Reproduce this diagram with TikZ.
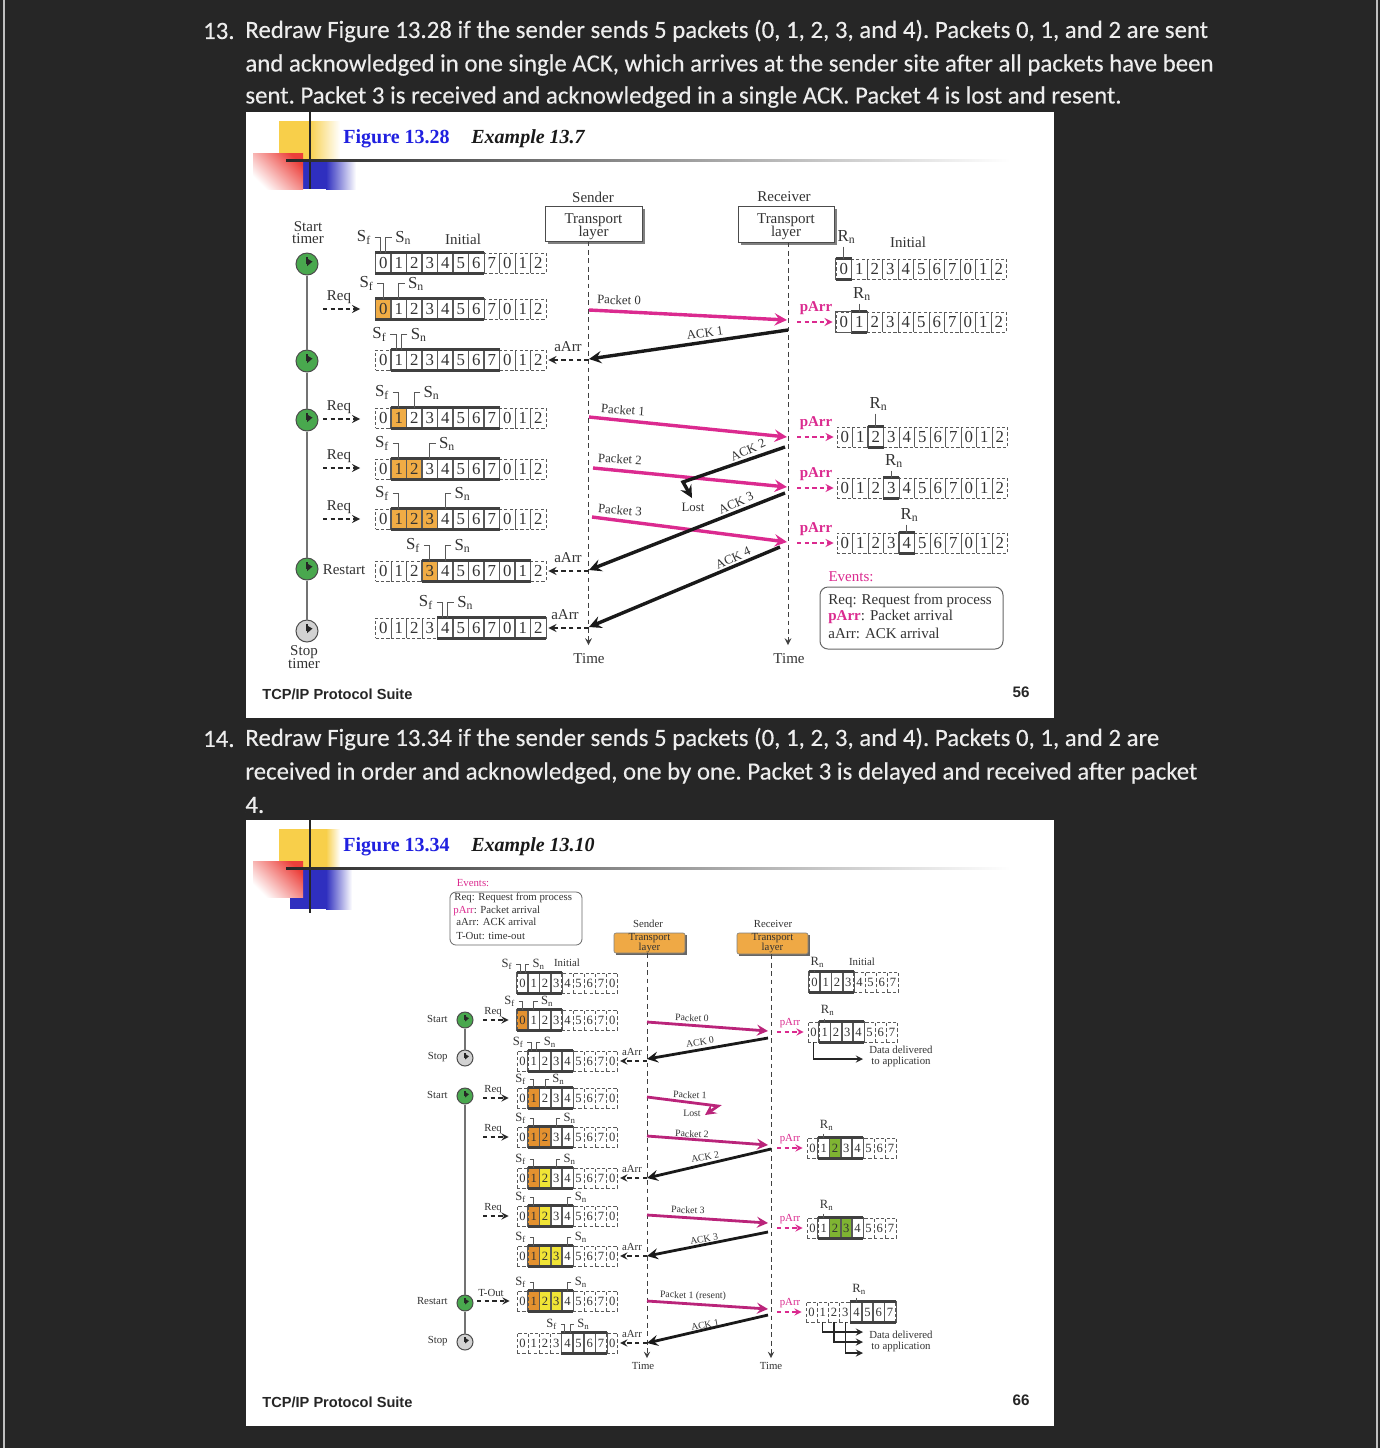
\documentclass[tikz,border=0pt]{standalone}
\usepackage{fontspec}
\setmainfont{Liberation Serif}
\newfontfamily\parafont[FakeBold=0.25]{Carlito}
\newfontfamily\suitefont{Liberation Sans}
\usepackage{xcolor}
\usetikzlibrary{shapes,arrows,positioning,calc}
\definecolor{pagebg}{HTML}{262626}
\definecolor{pagetxt}{HTML}{EDEDED}
\definecolor{inktxt}{HTML}{333333}
\definecolor{pktpink}{HTML}{DB2A8F}
\definecolor{cellorg}{HTML}{F0AC45}
\definecolor{celldark}{HTML}{E3912F}
\definecolor{cellyel}{HTML}{F0E436}
\definecolor{cellgrn}{HTML}{7FB432}
\definecolor{clkgrn}{HTML}{49A84E}
\definecolor{clkgry}{HTML}{D2D2D2}
\definecolor{boxorg}{HTML}{EFA945}
\definecolor{figblue}{HTML}{2020E0}
\definecolor{decoyel}{HTML}{F8CF4A}
\definecolor{decoblu}{HTML}{2F2FBF}
\definecolor{decored}{HTML}{EC3F3A}
\tikzset{
  ptext/.style={font=\parafont\frenchspacing\fontsize{12.42}{14}\selectfont,text=pagetxt,anchor=west,inner sep=0pt},
  cell/.style={draw=black!65,dash pattern=on 1.6pt off 1.1pt,line width=.4pt,inner sep=0pt,text=inktxt},
  cellsolid/.style={draw=black!65,line width=.45pt,solid},
  cellthick/.style={draw=black!75,line width=1.2pt,solid},
  brk/.style={draw=black!65,line width=.45pt},
  lab/.style={text=inktxt,inner sep=1.5pt},
  evt/.style={dash pattern=on 2.2pt off 1.6pt,line width=.8pt,-stealth,black!85},
  evtp/.style={evt,pktpink},
  life/.style={dash pattern=on 2.4pt off 1.8pt,line width=.5pt,-stealth,black!75},
  clk/.style={circle,draw=black!70,line width=.5pt,inner sep=0pt},
  tline/.style={black!55,line width=1.1pt},
  pagecap/.style={font=\suitefont\bfseries\fontsize{7.3}{9}\selectfont,text=black!85,inner sep=0pt},
  figcap/.style={font=\bfseries\fontsize{10}{12}\selectfont,inner sep=0pt,anchor=west}
}
% one row of a sliding window: name, left x, y, labels, first solid, last solid, fills
\newcommand{\winrow}[7]{
  \foreach \k/\cl in {#7} {
    \fill[\cl] ({#2+\k*\cellw},{#3-\cellh/2}) rectangle ++(\cellw,\cellh);
  }
  \foreach \lab [count=\n from 0] in #4 {
    \node[cell,cellfont,minimum width={\cellw*.5pt},minimum height={\cellh*.5pt}] (#1-\n) at ({#2+(\n+.5)*\cellw},#3) {\lab};
  }
  \foreach \j in {#5,...,#6} {
    \draw[cellsolid] (#1-\j.north west) rectangle (#1-\j.south east);
  }
  \draw[cellthick] (#1-#5.north west) -- (#1-#6.north east);
  \draw[cellthick] (#1-#5.south west) -- (#1-#6.south east);
}
% S_f and S_n marks over a row
\newcommand{\sfsn}[3]{
  \ifnum#2=#3 \def\gapx{1.3}\else \def\gapx{0}\fi
  \coordinate (#1-fp) at ([xshift=-\gapx pt]#1-#2.north);
  \coordinate (#1-np) at ([xshift=\gapx pt]#1-#3.north);
  \node[lab,cellfont,anchor=east] (#1-sf) at ($(#1-fp)+(-\hookw,-\hookh)$) {S\textsubscript{f}};
  \node[lab,cellfont,anchor=west] (#1-sn) at ($(#1-np)+(\hookw,-\hookh)$) {S\textsubscript{n}};
  \draw[brk] (#1-sf.east) -| (#1-fp);
  \draw[brk] (#1-sn.west) -| (#1-np);
}
% R_n mark over a row: row, cell, rise
\newcommand{\rnmark}[3]{
  \node[lab,cellfont,anchor=south] (#1-rn) at ($(#1-#2.north)+(3,-#3)$) {R\textsubscript{n}};
  \draw[brk] (#1-#2.north |- #1-rn.south) -- (#1-#2.north);
}
% timer clock: name, x, y, colour, radius
\newcommand{\clock}[5]{
  \node[clk,fill=#4,minimum size={2*#5*.5pt}] (#1) at (#2,#3) {};
  \draw[black!85,line width=.7pt] (#1.center) -- ++(0,{-#5*.6});
  \fill[black!85] (#1.center) ++(0,{-#5*.5}) -- ++({#5*.5},{#5*.28}) -- ++({-#5*.5},{#5*.42}) -- cycle;
}
\begin{document}
\begin{tikzpicture}[x=.5pt,y=-.5pt]
\useasboundingbox (0,0) rectangle (1380,1448);
\fill[pagebg] (0,0) rectangle (1380,1448);
\fill[black!25] (2.5,0) rectangle (4.5,1448);
\fill[black!25] (1376,0) rectangle (1378,1448);

% PAGE TEXT
\node[ptext,anchor=east] (q13) at (235,31) {13.};
\node[ptext] (q13a) at (245,31) {Redraw Figure 13.28 if the sender sends 5 packets (0, 1, 2, 3, and 4). Packets 0, 1, and 2 are sent};
\node[ptext] (q13b) at (245,65) {and acknowledged in one single ACK, which arrives at the sender site after all packets have been};
\node[ptext] (q13c) at (245,97) {sent. Packet 3 is received and acknowledged in a single ACK. Packet 4 is lost and resent.};
\node[ptext,anchor=east] (q14) at (235,739) {14.};
\node[ptext] (q14a) at (245,739) {Redraw Figure 13.34 if the sender sends 5 packets (0, 1, 2, 3, and 4). Packets 0, 1, and 2 are};
\node[ptext] (q14b) at (245,773) {received in order and acknowledged, one by one. Packet 3 is delayed and received after packet};
\node[ptext] (q14c) at (245,805) {4.};

% TOP SLIDE: Figure 13.28
\fill[white] (246,112) rectangle (1054,718);
\fill[decoyel] (279,121) rectangle (309,160);
\shade[left color=decoyel,right color=white] (309,121) rectangle (340,160);
\fill[decoblu] (303,160) rectangle (326,189);
\shade[left color=decoblu,right color=white] (326,160) rectangle (356,189);
\shade[top color=decored,bottom color=white,shading angle=-45] (253,153) rectangle (303,189);
\draw[black!85,line width=.9pt] (310,112) -- (310,189);
\shade[left color=black!85,middle color=black!60,right color=white] (286,159.5) rectangle (1010,161.5);
\node[figcap,text=figblue] (ftop) at (343,139) {Figure 13.28};
\node[figcap,text=black!90,font=\bfseries\itshape\fontsize{10}{12}\selectfont] (etop) at (471,139) {Example 13.7};
\node[pagecap,anchor=west] (stop) at (262,694) {TCP/IP Protocol Suite};
\node[pagecap,font=\suitefont\bfseries\fontsize{7.6}{9}\selectfont] (ntop) at (1021,692) {56};

\begin{scope}[cellfont/.style={font=\fontsize{8.4}{9}\selectfont},
  sm/.style={lab,font=\fontsize{7.5}{7}\selectfont},
  pk/.style={lab,font=\fontsize{6.4}{7}\selectfont},
  pkt/.style={pktpink,line width=1.7pt,-stealth},
  ackl/.style={black!90,line width=1.7pt,-stealth}]
  \def\cellw{15.5}\def\cellh{20}\def\hookw{6}\def\hookh{15}
  % Timers
  \clock{ta}{307}{264}{clkgrn}{11}
  \clock{tb}{307}{361}{clkgrn}{11}
  \clock{tc}{307}{420}{clkgrn}{11}
  \clock{td}{307}{569}{clkgrn}{11}
  \clock{te}{307}{631}{clkgry}{11}
  \draw[tline] (ta) -- (tb);
  \draw[tline] (tb) -- (tc);
  \draw[tline] (tc) -- (td);
  \draw[tline] (td) -- (te);
  \node[sm,align=center] (tstart) at (308,232.5) {Start\\[-.7pt]timer};
  \node[sm,align=center] (tstop) at (304,657) {Stop\\[-.7pt]timer};
  \node[sm] (trest) at (344,570) {Restart};

  % Sender windows
  \def\lbl{0,1,2,3,4,5,6,7,0,1,2}
  \winrow{sa}{375.5}{263}{\lbl}{0}{6}{0/white}
  \winrow{sb}{375.5}{309}{\lbl}{0}{6}{0/cellorg}
  \winrow{sc}{375.5}{360}{\lbl}{1}{7}{0/white}
  \winrow{sd}{375.5}{418}{\lbl}{1}{7}{1/cellorg}
  \winrow{se}{375.5}{469}{\lbl}{1}{7}{1/cellorg,2/cellorg}
  \winrow{sg}{375.5}{519}{\lbl}{1}{7}{1/cellorg,2/cellorg,3/cellorg}
  \winrow{sh}{375.5}{571}{\lbl}{3}{9}{3/cellorg}
  \winrow{si}{375.5}{628}{\lbl}{4}{10}{0/white}
  \sfsn{sa}{0}{0}
  \sfsn{sb}{0}{1}
  \sfsn{sc}{1}{1}
  \sfsn{sd}{1}{2}
  \sfsn{se}{1}{3}
  \sfsn{sg}{1}{4}
  \sfsn{sh}{3}{4}
  \sfsn{si}{4}{4}
  \node[sm] (inits) at (463,239) {Initial};

  % Receiver windows
  \winrow{ra}{836}{269}{\lbl}{0}{0}{0/white}
  \winrow{rb}{836}{322}{\lbl}{1}{1}{0/white}
  \draw[cellsolid] (rb-0.north west) rectangle (rb-0.south east);
  \winrow{rc}{837}{437}{\lbl}{2}{2}{0/white}
  \winrow{rd}{837}{488}{\lbl}{3}{3}{0/white}
  \winrow{rg}{837}{543}{\lbl}{4}{4}{0/white}
  \rnmark{ra}{0}{12}
  \rnmark{rb}{1}{8}
  \rnmark{rc}{2}{13}
  \rnmark{rd}{3}{7}
  \rnmark{rg}{4}{8}
  \node[sm] (initr) at (908,242) {Initial};

  % Layers and time lines
  \fill[black!50] (548,209) rectangle (645,244);
  \fill[black!50] (741,209) rectangle (837,245);
  \node[sm] (sndr) at (593,197) {Sender};
  \node[sm] (recv) at (784,197) {Receiver};
  \node[draw=black!70,fill=white,line width=.5pt,minimum width=48.5pt,minimum height=17.5pt,inner sep=0pt,align=center,font=\fontsize{7.5}{8}\selectfont,text=inktxt] (sbox) at (593.5,223.5) {\rule{0pt}{8pt}Transport\\[-1.5pt]layer};
  \node[draw=black!70,fill=white,line width=.5pt,minimum width=48pt,minimum height=18pt,inner sep=0pt,align=center,font=\fontsize{7.5}{8}\selectfont,text=inktxt] (rbox) at (786,224) {\rule{0pt}{8pt}Transport\\[-1.5pt]layer};
  \coordinate (send) at (588.5,645);
  \coordinate (rend) at (788,645);
  \draw[life] (sbox.south -| send) -- (send);
  \draw[life] (rbox.south -| rend) -- (rend);
  \node[sm] (tims) at (589,658.5) {Time};
  \node[sm] (timr) at (789,658.5) {Time};

  % Packets and ACKs
  \foreach \nm/\xa/\ya/\xb/\yb in {pa/589/310/787/320, pb/589/417/787/437, pc/593/468/787/487, pd/592/517/787/542} {
    \coordinate (\nm-a) at (\xa,\ya);
    \coordinate (\nm-b) at (\xb,\yb);
    \draw[pkt] (\nm-a) -- (\nm-b);
  }
  \foreach \nm/\xa/\ya/\xb/\yb in {aa/788/330/589/359, ac/785/493/589/570, ad/780/547/589/627} {
    \coordinate (\nm-a) at (\xa,\ya);
    \coordinate (\nm-b) at (\xb,\yb);
    \draw[ackl] (\nm-a) -- (\nm-b);
  }
  \coordinate (ab-a) at (785,447);
  \coordinate (ab-m) at (683,482);
  \coordinate (ab-b) at (692,498);
  \draw[ackl,line join=miter] (ab-a) -- (ab-m) -- (ab-b);
  \node[pk] (lost) at (693,507) {Lost};
  \foreach \nm/\txt/\lx/\ly/\rt in {lpa/Packet 0/619/300/-2, lpb/Packet 1/623/410/-4, lpc/Packet 2/620/459/-3, lpd/Packet 3/620/510/-5,
      laa/ACK 1/705/333/8, lab/ACK 2/748/450/24, lac/ACK 3/736/503/24, lad/ACK 4/733/558/24} {
    \node[pk,rotate=\rt] (\nm) at (\lx,\ly) {\txt};
  }

  % Events at the sender
  \foreach \nm/\ly/\row in {qa/309/sb, qb/419/sd, qc/468/se, qd/519/sg} {
    \coordinate (\nm-t) at (323,\ly);
    \draw[evt,shorten >=7.5pt] (\nm-t) -- (\row-0.west |- \nm-t);
    \node[sm] (\nm-l) at (339,{\ly-12}) {Req};
  }
  \foreach \nm/\ly/\row/\lx in {ea/360/sc/568, eb/571/sh/568, ec/628/si/565} {
    \coordinate (\nm-t) at (588.5,\ly);
    \draw[evt,shorten >=1pt] (\nm-t) -- (\row-10.east |- \nm-t);
    \node[sm] (\nm-l) at (\lx,{\ly-13}) {aArr};
  }
  % Events at the receiver
  \foreach \nm/\ly/\row in {va/322/rb, vb/437/rc, vc/488/rd, vd/543/rg} {
    \coordinate (\nm-t) at (797,\ly);
    \draw[evtp,shorten >=1.5pt] (\nm-t) -- (\row-0.west |- \nm-t);
    \node[sm,text=pktpink,font=\bfseries\fontsize{7.5}{7}\selectfont] (\nm-l) at (816,{\ly-14}) {pArr};
  }

  % Legend
  \node[sm,text=pktpink] (evtop) at (851,577) {Events:};
  \node[draw=black!60,rounded corners=4pt,line width=.5pt,minimum width=91.5pt,minimum height=31pt] (legtop) at (911.5,618) {};
  \node[sm,anchor=west,inner sep=0pt] (lega) at (828,601) {Req: Request from process};
  \node[sm,anchor=west,inner sep=0pt] (legb) at (828,617) {\textcolor{pktpink}{\textbf{pArr}}: Packet arrival};
  \node[sm,anchor=west,inner sep=0pt] (legc) at (828,633) {aArr: ACK arrival};
\end{scope}

% BOTTOM SLIDE: Figure 13.34
\fill[white] (246,820) rectangle (1054,1426);
\fill[decoyel] (279,829) rectangle (326,868);
\shade[left color=decoyel,right color=white] (326,829) rectangle (340,868);
\fill[decoblu] (303,868) rectangle (326,897);
\fill[decoblu] (290,897) rectangle (326,909);
\shade[left color=decoblu,right color=white] (326,868) rectangle (352,909);
\shade[top color=decored,bottom color=white,shading angle=-45] (253,861) rectangle (303,897);
\draw[black!85,line width=.9pt] (310,820) -- (310,913);
\shade[left color=black!85,middle color=black!60,right color=white] (286,867) rectangle (1010,869);
\node[figcap,text=figblue] (fbot) at (343,847) {Figure 13.34};
\node[figcap,text=black!90,font=\bfseries\itshape\fontsize{10}{12}\selectfont] (ebot) at (471,847) {Example 13.10};
\node[pagecap,anchor=west] (sbot) at (262,1402) {TCP/IP Protocol Suite};
\node[pagecap,font=\suitefont\bfseries\fontsize{7.6}{9}\selectfont] (nbot) at (1021,1400) {66};

\begin{scope}[cellfont/.style={font=\fontsize{6.3}{7}\selectfont},
  sm/.style={lab,font=\fontsize{5.4}{6}\selectfont},
  pk/.style={lab,font=\fontsize{4.9}{6}\selectfont},
  pkt/.style={pktpink!85!black,line width=1.4pt,-stealth},
  ackl/.style={black!90,line width=1.4pt,-stealth}]
  \def\cellw{11.2}\def\cellh{20}\def\hookw{4}\def\hookh{8}
  % Timers
  \clock{ua}{465}{1020}{clkgrn}{8}
  \clock{ub}{465}{1058}{clkgry}{8}
  \clock{uc}{465}{1096}{clkgrn}{8}
  \clock{ud}{465}{1303}{clkgrn}{8}
  \clock{ug}{465}{1342}{clkgry}{8}
  \draw[tline] (ua) -- (ub);
  \draw[tline] (uc) -- (ud);
  \draw[tline] (ud) -- (ug);
  \foreach \nm/\txt/\ly in {una/Start/1019, unb/Stop/1057, unc/Start/1095, und/Restart/1301, ung/Stop/1341} {
    \node[sm,anchor=east] (\nm) at (451,\ly) {\txt};
  }

  % Sender windows
  \def\lbl{0,1,2,3,4,5,6,7,0}
  \winrow{wa}{517}{983}{\lbl}{0}{3}{0/white}
  \winrow{wb}{517}{1020}{\lbl}{0}{3}{0/celldark}
  \winrow{wc}{517}{1061}{\lbl}{1}{4}{0/white}
  \winrow{wd}{517}{1098}{\lbl}{1}{4}{1/celldark}
  \winrow{we}{517}{1137}{\lbl}{1}{4}{1/celldark,2/celldark}
  \winrow{wg}{517}{1178}{\lbl}{1}{4}{1/celldark,2/cellyel}
  \winrow{wh}{517}{1216}{\lbl}{1}{4}{1/celldark,2/cellyel}
  \winrow{wi}{517}{1256}{\lbl}{1}{4}{1/celldark,2/cellyel,3/cellyel}
  \winrow{wj}{517}{1301}{\lbl}{1}{4}{1/celldark,2/cellyel,3/cellyel}
  \winrow{wk}{517}{1343}{\lbl}{4}{7}{0/white}
  \sfsn{wa}{0}{0}
  \sfsn{wb}{0}{1}
  \sfsn{wc}{1}{1}
  \sfsn{wd}{1}{2}
  \sfsn{we}{1}{3}
  \sfsn{wg}{1}{3}
  \sfsn{wh}{1}{4}
  \sfsn{wi}{1}{4}
  \sfsn{wj}{1}{4}
  \sfsn{wk}{4}{4}
  \node[sm] (initw) at (567,963) {Initial};

  % Receiver windows
  \def\lbl{0,1,2,3,4,5,6,7}
  \winrow{xa}{809}{982}{\lbl}{0}{3}{0/white}
  \winrow{xb}{808}{1032}{\lbl}{1}{4}{0/white}
  \winrow{xc}{807}{1148}{\lbl}{1}{4}{2/cellgrn}
  \winrow{xd}{807}{1228}{\lbl}{1}{4}{2/cellgrn,3/cellgrn}
  \winrow{xe}{806}{1312}{\lbl}{4}{7}{0/white}
  \rnmark{xa}{0}{1}
  \rnmark{xb}{1}{3}
  \rnmark{xc}{1}{4}
  \rnmark{xd}{1}{4}
  \rnmark{xe}{4}{4}
  \node[sm] (initx) at (862,962) {Initial};

  % Layers and time lines
  \fill[black!60] (616,935) rectangle (687,955);
  \fill[black!60] (739,935) rectangle (810,956);
  \node[sm] (sndw) at (648,924) {Sender};
  \node[sm] (recw) at (773,924) {Receiver};
  \node[draw=black!50,fill=boxorg,rounded corners=1pt,line width=.3pt,minimum width=35.5pt,minimum height=10pt,inner sep=0pt,align=center,font=\fontsize{5.4}{6}\selectfont,text=inktxt] (wbox) at (649.5,943) {Transport\\[-1pt]layer};
  \node[draw=black!50,fill=boxorg,rounded corners=1pt,line width=.3pt,minimum width=35.5pt,minimum height=10.5pt,inner sep=0pt,align=center,font=\fontsize{5.4}{6}\selectfont,text=inktxt] (xbox) at (772.5,943.5) {Transport\\[-1pt]layer};
  \coordinate (wend) at (647,1358);
  \coordinate (xend) at (771,1358);
  \draw[life,line width=.4pt] (wbox.south -| wend) -- (wend);
  \draw[life,line width=.4pt] (xbox.south -| xend) -- (xend);
  \node[sm] (timw) at (643,1366) {Time};
  \node[sm] (timx) at (771,1366) {Time};

  % Packets and ACKs
  \foreach \nm/\xa/\ya/\xb/\yb in {ka/647/1022/768/1031, kc/647/1136/768/1145, kd/647/1215/768/1223, ke/647/1301/768/1309} {
    \coordinate (\nm-a) at (\xa,\ya);
    \coordinate (\nm-b) at (\xb,\yb);
    \draw[pkt] (\nm-a) -- (\nm-b);
  }
  \foreach \nm/\xa/\ya/\xb/\yb in {ha/768/1038/647/1059, hc/771/1149/647/1178, hd/768/1232/647/1256, he/768/1315/647/1343} {
    \coordinate (\nm-a) at (\xa,\ya);
    \coordinate (\nm-b) at (\xb,\yb);
    \draw[ackl] (\nm-a) -- (\nm-b);
  }
  \coordinate (kb-a) at (647,1097);
  \coordinate (kb-m) at (718,1106);
  \coordinate (kb-b) at (705,1115);
  \draw[pkt] (kb-a) -- (kb-m) -- (kb-b);
  \node[pk] (lostw) at (692,1113) {Lost};
  \foreach \nm/\txt/\lx/\ly/\rt in {nka/Packet 0/692/1018/-2, nkb/Packet 1/690/1095/-2, nkc/Packet 2/692/1134/-2, nkd/Packet 3/688/1210/-2, nke/Packet 1 (resent)/693/1296/-1,
      nha/ACK 0/700/1042/8, nhc/ACK 2/705/1157/10, nhd/ACK 3/704/1239/10, nhe/ACK 1/705/1325/11} {
    \node[pk,rotate=\rt] (\nm) at (\lx,\ly) {\txt};
  }

  % Events at the sender
  \foreach \nm/\ly/\row in {ya/1020/wb, yb/1098/wd, yc/1137/we, yd/1216/wh} {
    \coordinate (\nm-t) at (483,\ly);
    \draw[evt,line width=.6pt,shorten >=4pt] (\nm-t) -- (\row-0.west |- \nm-t);
    \node[sm] (\nm-l) at (493,{\ly-8}) {Req};
  }
  \coordinate (tout) at (477,1301);
  \draw[evt,line width=.6pt,shorten >=3.5pt] (tout) -- (wj-0.west |- tout);
  \node[sm] (toutl) at (491,1293) {T-Out};
  \foreach \nm/\ly/\row in {ma/1061/wc, mb/1178/wg, mc/1256/wi, md/1343/wk} {
    \coordinate (\nm-t) at (647,\ly);
    \draw[evt,line width=.6pt,shorten >=1pt] (\nm-t) -- (\row-8.east |- \nm-t);
    \node[sm] (\nm-l) at (632,{\ly-9}) {aArr};
  }
  % Events at the receiver
  \foreach \nm/\ly/\row in {za/1032/xb, zb/1148/xc, zc/1228/xd, zd/1312/xe} {
    \coordinate (\nm-t) at (777,\ly);
    \draw[evtp,line width=.6pt,shorten >=2pt] (\nm-t) -- (\row-0.west |- \nm-t);
    \node[sm,text=pktpink] (\nm-l) at (790,{\ly-9}) {pArr};
  }

  % Data delivered
  \coordinate (dda) at (863,1059);
  \draw[black!85,line width=.6pt,-stealth] (xb-0.south) -- (xb-0.south |- dda) -- (dda);
  \node[sm,align=center] (ddat) at (901,1056.5) {Data delivered\\[-.4pt]to application};
  \foreach \nm/\ly/\cn in {dba/1332/1, dbb/1342/2, dbc/1353/3} {
    \coordinate (\nm) at (863,\ly);
    \draw[black!85,line width=.6pt,-stealth] (xe-\cn.south) -- (xe-\cn.south |- \nm) -- (\nm);
  }
  \node[sm,align=center] (ddbt) at (901,1341) {Data delivered\\[-.4pt]to application};

  % Legend
  \node[sm,text=pktpink] (evbot) at (473,883) {Events:};
  \node[draw=black!60,rounded corners=3pt,line width=.4pt,minimum width=66pt,minimum height=26.5pt] (legbot) at (516,918.5) {};
  \node[sm,anchor=west,inner sep=0pt] (lgba) at (454,898) {Req: Request from process};
  \node[sm,anchor=west,inner sep=0pt] (lgbb) at (453,911) {\textcolor{pktpink}{pArr}: Packet arrival};
  \node[sm,anchor=west,inner sep=0pt] (lgbc) at (456,922) {aArr: ACK arrival};
  \node[sm,anchor=west,inner sep=0pt] (lgbd) at (456,936) {T-Out: time-out};
\end{scope}
\end{tikzpicture}
\end{document}
